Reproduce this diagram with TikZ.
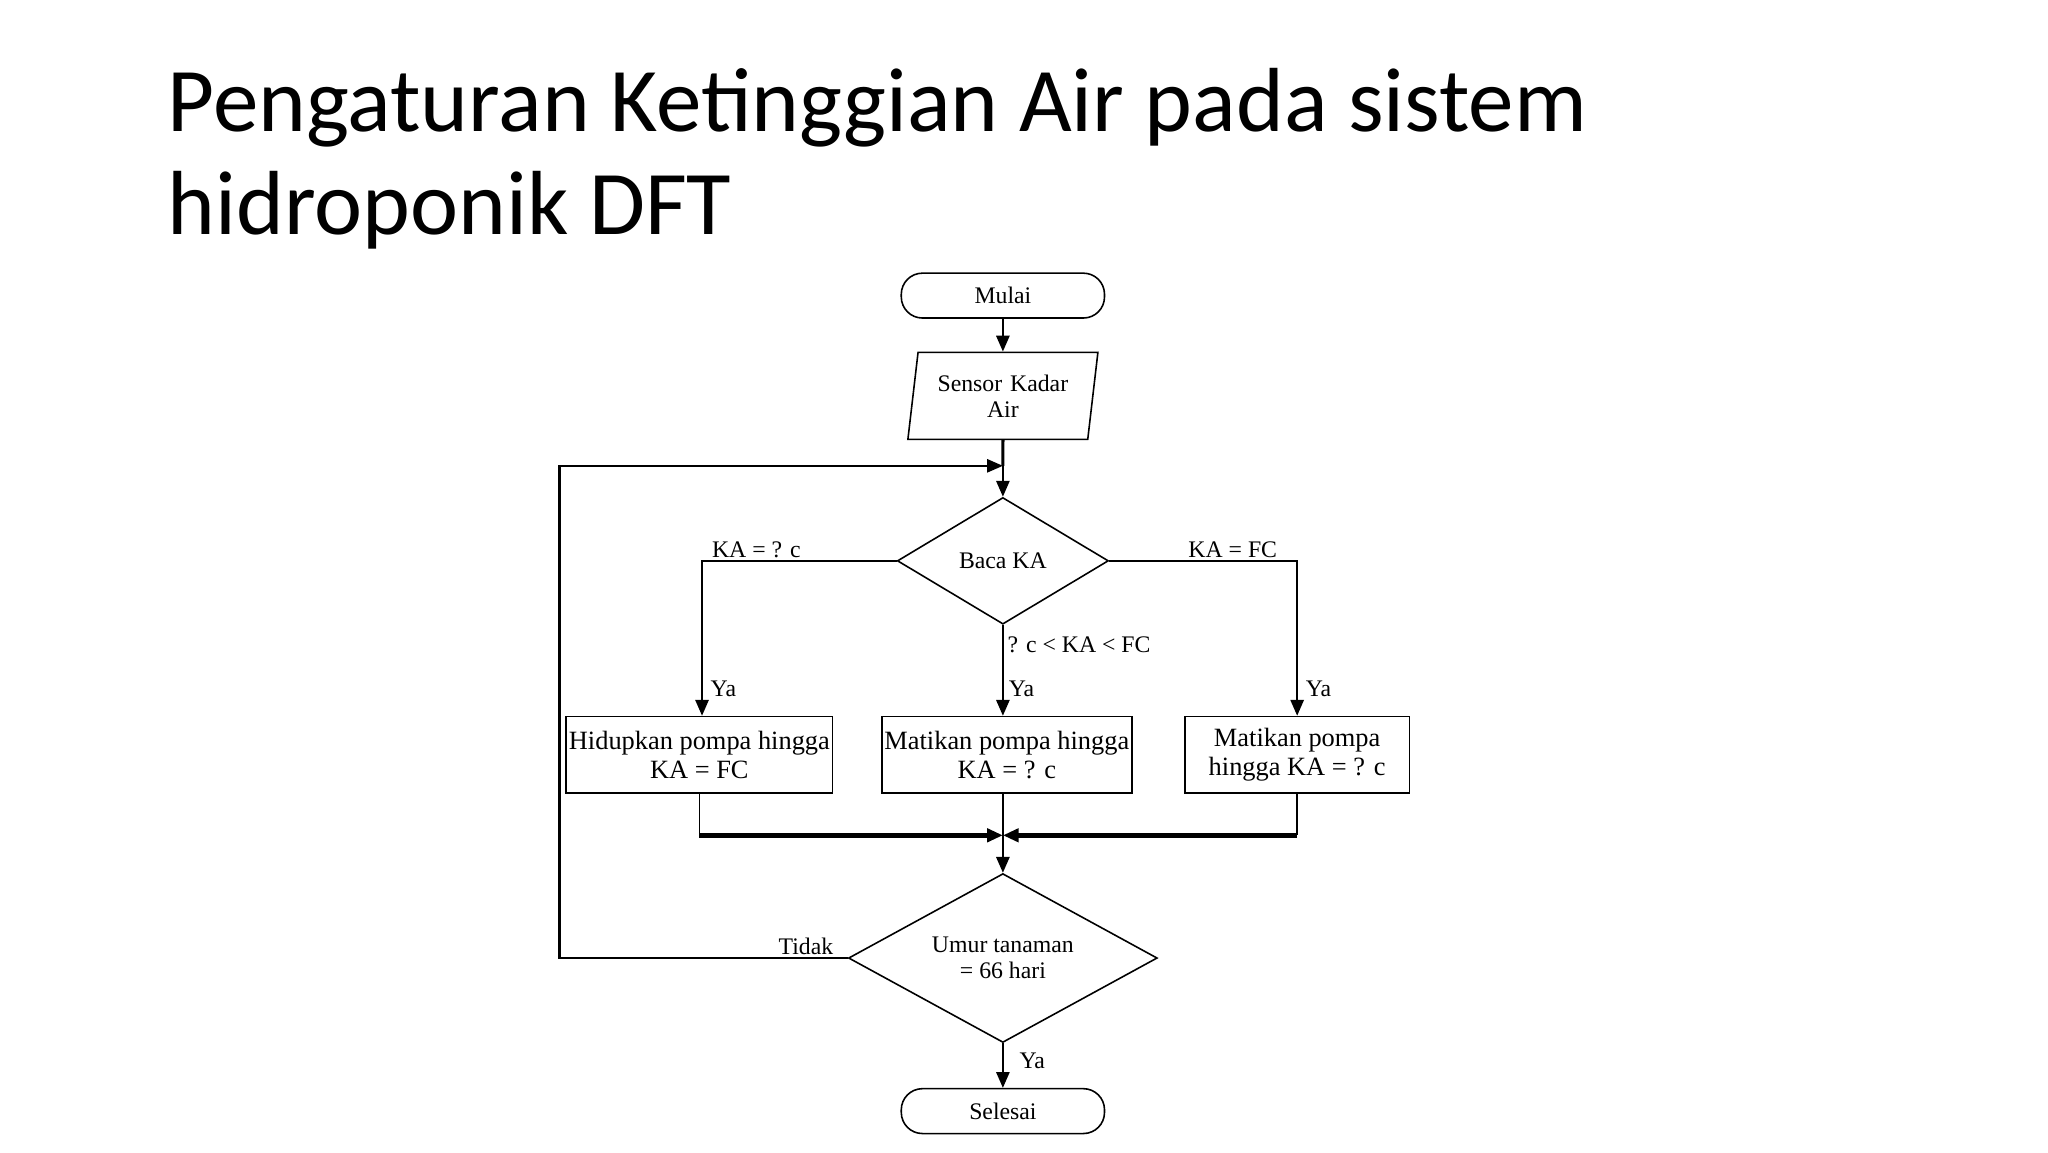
\documentclass[tikz,border=0pt]{standalone}
\usepackage{fontspec}
\setmainfont{Liberation Serif}
\newfontfamily\titlefont{Carlito}
\usetikzlibrary{positioning,shapes.geometric,arrows.meta}

\tikzset{
  term/.style={draw,rounded corners=8pt,minimum width=77pt,minimum height=17pt,inner sep=1pt},
  io/.style={draw,trapezium,trapezium left angle=78,trapezium right angle=102,trapezium stretches body,minimum width=72pt,text width=62pt,minimum height=33pt,align=center,inner sep=1pt,font=\small\linespread{0.9}\selectfont},
  dec/.style={draw,diamond,aspect=1.67,inner sep=0pt,align=center},
  proc/.style={draw,minimum height=29pt,align=center,inner sep=1pt,font=\linespread{0.9}\selectfont},
  flow/.style={-{Triangle[length=6pt,width=5pt]},line width=0.8pt},
  lbl/.style={inner sep=1pt}
}

\begin{document}
\begin{tikzpicture}[x=0.5pt,y=-0.5pt,font=\fontsize{9}{10}\selectfont,line width=0.6pt]
\useasboundingbox (0,0) rectangle (1552,873);

\node[anchor=base west,font=\titlefont\fontsize{34.5}{39}\selectfont,align=left] (title) at (120,178)
  {Pengaturan Ketinggian Air pada sistem\\hidroponik DFT};

\node[term] (mulai) at (760,224) {Mulai};
\node[io] (sensor) at (760,300) {Sensor Kadar\\Air};
\coordinate (join) at (760,353);
\node[dec,minimum width=80pt,minimum height=48pt] (baca) at (760,425) {Baca KA};
\node[proc,minimum width=92pt] (hidup) at (530,572) {Hidupkan pompa hingga\\KA = FC};
\node[proc,minimum width=92pt] (mati1) at (763,572) {Matikan pompa hingga\\KA = ? c};
\node[proc,minimum width=85pt] (mati2) at (983,572) {Matikan pompa\\hingga KA = ? c};
\coordinate (merge) at (760,633);
\node[dec,minimum width=117pt,minimum height=64pt,align=center] (umur) at (760,726) {Umur tanaman\\= 66 hari};
\node[term] (selesai) at (760,842) {Selesai};

\coordinate (cl) at (532,425);
\coordinate (cr) at (983,425);
\coordinate (lp1) at (424,726);
\coordinate (lp2) at (424,353);

\draw[flow] (mulai) -- (sensor);
\draw[line width=1.2pt] (sensor) -- (join);
\draw[flow] (join) -- (baca);
\draw[flow] (baca.west) -- (cl) -- (hidup.north -| cl);
\draw[flow] (baca.east) -- (cr) -- (mati2.north -| cr);
\draw[flow] (baca) -- (mati1.north -| baca);
\draw (hidup.south) -- (hidup.south |- merge);
\draw (mati2.south) -- (mati2.south |- merge);
\draw[flow,line width=1.8pt] (hidup.south |- merge) -- (merge);
\draw[flow,line width=1.8pt] (mati2.south |- merge) -- (merge);
\draw[flow] (mati1.south -| merge) -- (umur.north);
\draw[flow] (umur.south) -- (selesai);
\draw[flow] (umur.west) -- (lp1) -- (lp2) -- (join);

\node[lbl,anchor=south west] (l1) at (537,425) {KA = ? c};
\node[lbl,anchor=south west] (l2) at (898,425) {KA = FC};
\node[lbl,anchor=west] (l3) at (761,489) {? c < KA < FC};
\node[lbl,anchor=west] (y1) at (536,522) {Ya};
\node[lbl,anchor=west] (y2) at (762,522) {Ya};
\node[lbl,anchor=west] (y3) at (987,522) {Ya};
\node[lbl,anchor=south east] (tidak) at (634,726) {Tidak};
\node[lbl,anchor=west] (y4) at (770,804) {Ya};
\end{tikzpicture}
\end{document}
